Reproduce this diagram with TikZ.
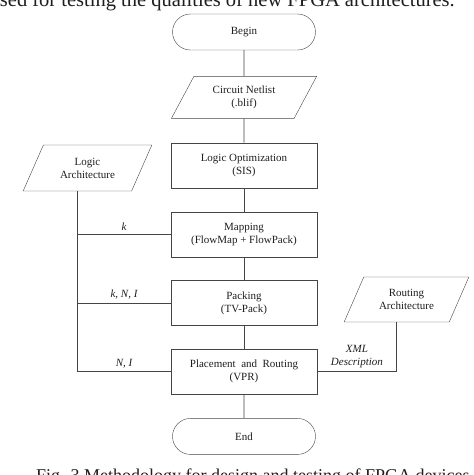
\documentclass[tikz,border=0pt]{standalone}
\usepackage{fontspec}
\setmainfont{Liberation Serif}
\usepackage{tikz}
\usetikzlibrary{positioning,shapes.geometric,shapes.misc}
\definecolor{rim}{HTML}{454545}
\definecolor{txt}{HTML}{1e1e1e}

\begin{document}
\begin{tikzpicture}[x=1pt,y=-1pt,
   t/.style={draw=rim,rounded rectangle,minimum width=147pt,minimum height=36pt,inner sep=2pt,font=\fontsize{11}{13}\selectfont,text=txt},
   io/.style={draw=rim,trapezium,trapezium left angle=61,trapezium right angle=119,trapezium stretches=true,inner sep=2pt,align=center,font=\fontsize{11}{13}\selectfont,text=txt},
   b/.style={draw=rim,rectangle,minimum width=146pt,minimum height=45pt,inner sep=2pt,align=center,font=\fontsize{11}{13}\selectfont,text=txt},
   l/.style={draw=rim,line width=0.8pt},
   lab/.style={font=\fontsize{11}{13}\selectfont\itshape,text=txt,align=center},
   captxt/.style={text=txt,inner sep=0pt}]
  \path[use as bounding box] (0,0) rectangle (474,475);
  \clip (0,0) rectangle (474,475);
  % main column
  \node[t] (bgn) at (244,32) {Begin};
  \node[io,minimum width=146pt,minimum height=42pt,below=26pt of bgn] (net) {Circuit Netlist\\(.blif)};
  \node[b,below=24pt of net] (lo) {Logic Optimization\\(SIS)};
  \node[b,below=24pt of lo] (map) {Mapping\\(FlowMap + FlowPack)};
  \node[b,below=23pt of map] (pack) {Packing\\(TV-Pack)};
  \node[b,below=23pt of pack] (place) {Placement\ \ and\ \ Routing\\(VPR)};
  \node[t,below=24pt of place] (end) {End};
  % architecture inputs
  \node[io,minimum width=129pt,minimum height=46pt] (la) at (87.5,168) {Logic\\Architecture};
  \node[io,minimum width=125pt,minimum height=45pt] (ra) at (406.5,299.5) {Routing\\Architecture};
  \draw[l] (bgn) -- (net);
  \draw[l] (net) -- (lo);
  \draw[l] (lo) -- (map);
  \draw[l] (map) -- (pack);
  \draw[l] (pack) -- (place);
  \draw[l] (place) -- (end);
  \draw[l] (la.bottom side |- map) -- (map) node[lab,midway,above] {k};
  \draw[l] (la.bottom side |- pack) -- (pack) node[lab,midway,above] {k, N, I};
  \draw[l] (la.bottom side) |- (place) node[lab,pos=0.75,above] {N, I};
  \draw[l] (ra.bottom side) |- (place) node[lab,pos=0.75,above] {XML\\Description};
  % caption lines cut by the frame
  \node[captxt,font=\fontsize{20.5}{24}\selectfont,anchor=base east] (toptxt) at (455,6.5) {used for testing the qualities of new FPGA architectures.};
  \node[captxt,font=\fontsize{18}{22}\selectfont,anchor=base west] (figtxt) at (36,481) {Fig. 3 Methodology for design and testing of FPGA devices};
\end{tikzpicture}
\end{document}
